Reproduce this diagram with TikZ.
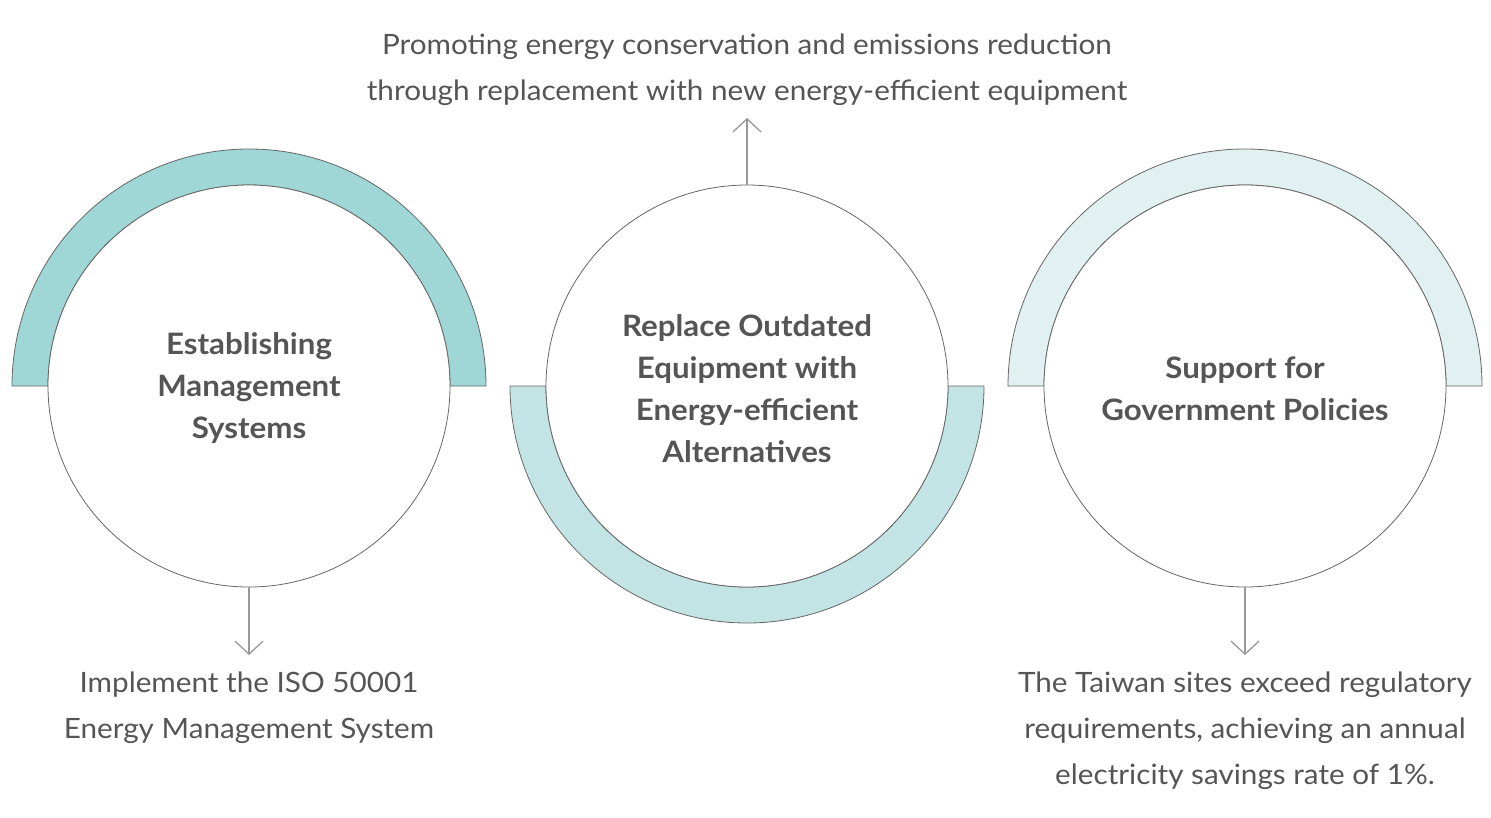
\documentclass[tikz,border=0pt]{standalone}
\usepackage{fontspec}
\setmainfont{Lato}[FakeStretch=1.06]
\usetikzlibrary{arrows.meta}
\definecolor{ringA}{HTML}{9FD6D6}
\definecolor{ringB}{HTML}{C2E4E4}
\definecolor{ringC}{HTML}{E1F1F1}
\definecolor{edge}{HTML}{666666}
\definecolor{txt}{HTML}{555555}
\definecolor{arr}{HTML}{999999}
\tikzset{
  bigcircle/.style={circle, draw=edge, line width=0.8pt, fill=white, minimum size=402pt, inner sep=0pt},
  titletext/.style={align=center, font=\fontsize{29.5}{42}\selectfont\bfseries, text=txt, inner sep=0pt, yshift=-2.5pt},
  ringstyle/.style={draw=edge, line width=0.8pt},
  bodytext/.style={align=center, font=\fontsize{28}{46}\selectfont, text=txt, inner sep=0pt},
  conn/.style={draw=arr, line width=1.3pt, -{Straight Barb[length=13pt,width=28pt]}}
}
\begin{document}
\begin{tikzpicture}
\useasboundingbox (0pt,0pt) rectangle (1491pt,-817pt);
% rings
\filldraw[ringstyle, fill=ringA] (12pt,-386pt) arc[start angle=180,end angle=0,radius=237pt] -- ++(-36pt,0pt) arc[start angle=0,end angle=180,radius=201pt] -- cycle;
\filldraw[ringstyle, fill=ringB] (510pt,-386pt) arc[start angle=180,end angle=360,radius=237pt] -- ++(-36pt,0pt) arc[start angle=360,end angle=180,radius=201pt] -- cycle;
\filldraw[ringstyle, fill=ringC] (1008pt,-386pt) arc[start angle=180,end angle=0,radius=237pt] -- ++(-36pt,0pt) arc[start angle=0,end angle=180,radius=201pt] -- cycle;
% circles
\node[bigcircle] (c1) at (249pt,-386pt) {};
\node[bigcircle] (c2) at (747pt,-386pt) {};
\node[bigcircle] (c3) at (1245pt,-386pt) {};
\node[titletext] (h1) at (c1.center) {Establishing\\Management\\Systems};
\node[titletext] (h2) at (c2.center) {Replace Outdated\\Equipment with\\Energy-efficient\\Alternatives};
\node[titletext] (h3) at (c3.center) {Support for\\Government Policies};
% texts
\node[bodytext] (t2) at (747pt,-70pt) {Promoting energy conservation and emissions reduction\\through replacement with new energy-efficient equipment};
\node[bodytext] (t1) at (249pt,-708pt) {Implement the ISO 50001\\Energy Management System};
\node[bodytext] (t3) at (1245pt,-731pt) {The Taiwan sites exceed regulatory\\requirements, achieving an annual\\electricity savings rate of 1\%.};
% arrows
\coordinate (a2) at (747pt,-118pt);
\coordinate (a1) at (249pt,-655pt);
\coordinate (a3) at (1245pt,-655pt);
\draw[conn] (c2.north) -- (a2);
\draw[conn] (c1.south) -- (a1);
\draw[conn] (c3.south) -- (a3);
\end{tikzpicture}
\end{document}
